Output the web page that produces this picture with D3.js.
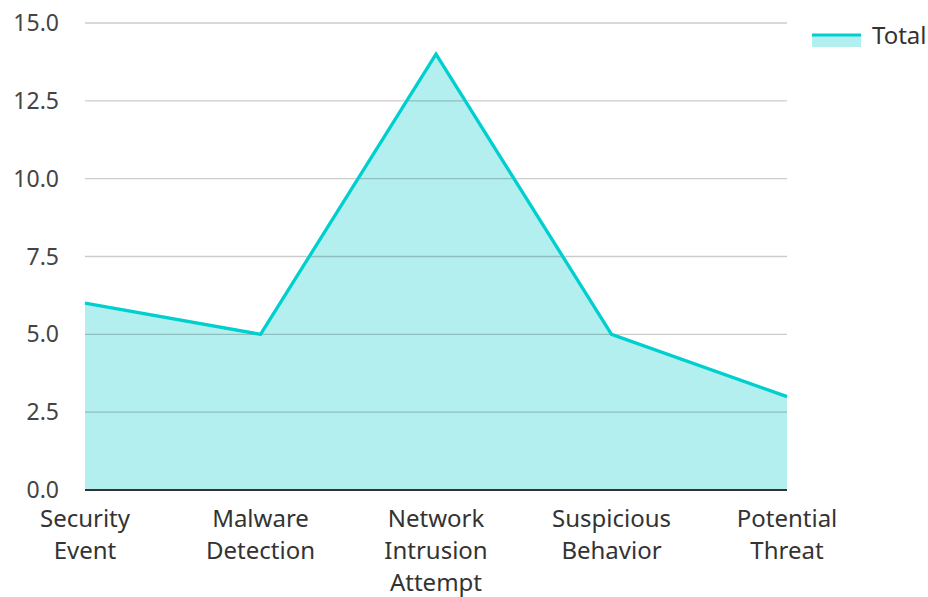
<!DOCTYPE html>
<html><head><meta charset="utf-8">
<script src="https://cdn.jsdelivr.net/npm/d3@7"></script>
<style>body{margin:0;background:#fff}svg{display:block;font-family:"Noto Sans","Open Sans",sans-serif}</style>
</head><body><svg id="c" width="928" height="597"></svg>
<script>
const categories = ["Security Event", "Malware Detection", "Network Intrusion Attempt", "Suspicious Behavior", "Potential Threat"];
const labelLines = [["Security","Event"],["Malware","Detection"],["Network","Intrusion","Attempt"],["Suspicious","Behavior"],["Potential","Threat"]];
const totals = [6, 5, 14, 5, 3];
const yTicks = [0, 2.5, 5, 7.5, 10, 12.5, 15];
const seriesName = "Total";

const svg = d3.select("#c");
const x = d3.scalePoint().domain(categories).range([85, 787]);
const y = d3.scaleLinear().domain([0, 15]).range([490, 23]);
const color = "#00cfd0";

const area = d3.area().x((d,i)=>x(categories[i])).y0(y(0)).y1(d=>y(d));
const line = d3.line().x((d,i)=>x(categories[i])).y(d=>y(d));

svg.append("path").datum(totals).attr("d", area).attr("fill", "#b2efee");

// grid
svg.append("g").selectAll("line").data(yTicks.filter(t=>t>0)).join("line")
  .attr("x1", 85).attr("x2", 787).attr("y1", d=>y(d)).attr("y2", d=>y(d))
  .attr("stroke", "rgba(0,0,0,0.2)").attr("stroke-width", 1.3);

svg.append("path").datum(totals).attr("d", line).attr("fill", "none")
  .attr("stroke", color).attr("stroke-width", 3.3).attr("stroke-linejoin", "miter");

// baseline
svg.append("line").attr("x1", 85).attr("x2", 787).attr("y1", y(0)).attr("y2", y(0))
  .attr("stroke", "#333").attr("stroke-width", 2);

// y labels
svg.append("g").selectAll("text").data(yTicks).join("text")
  .attr("x", 59).attr("y", d=>y(d)).attr("dy", "0.35em").attr("text-anchor", "end")
  .attr("font-size", 23).attr("fill", "#444").text(d=>d.toFixed(1));

// x labels
const xl = svg.append("g").selectAll("text").data(categories).join("text")
  .attr("text-anchor", "middle").attr("font-size", 24).attr("fill", "#333");
xl.each(function(d,i){
  const t = d3.select(this);
  labelLines[i].forEach((s,j)=>{
    t.append("tspan").attr("x", x(d)).attr("y", 527 + j*32).text(s);
  });
});

// legend
svg.append("rect").attr("x", 812).attr("y", 35).attr("width", 49).attr("height", 12).attr("fill", "#b2efee");
svg.append("line").attr("x1", 812).attr("x2", 861).attr("y1", 35).attr("y2", 35).attr("stroke", color).attr("stroke-width", 3);
svg.append("text").attr("x", 872).attr("y", 36).attr("dy", "0.35em").attr("font-size", 24).attr("fill", "#333").text(seriesName);
</script></body></html>
